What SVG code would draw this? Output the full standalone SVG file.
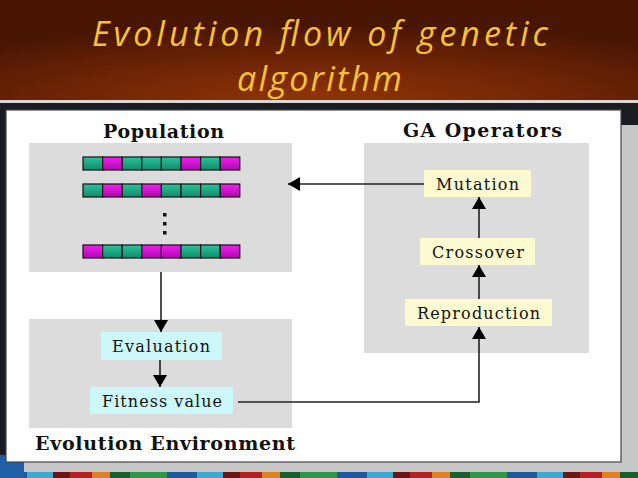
<svg xmlns="http://www.w3.org/2000/svg" width="638" height="478" viewBox="0 0 638 478">
<defs>
<radialGradient id="banner" cx="0.5" cy="1" r="0.75" fx="0.5" fy="1">
<stop offset="0" stop-color="#923507"/>
<stop offset="0.55" stop-color="#6e2405"/>
<stop offset="1" stop-color="#4a1604"/>
</radialGradient>
<linearGradient id="teal" x1="0" y1="0" x2="0" y2="1">
<stop offset="0" stop-color="#2cc49a"/>
<stop offset="1" stop-color="#0e8a6a"/>
</linearGradient>
<linearGradient id="mag" x1="0" y1="0" x2="0" y2="1">
<stop offset="0" stop-color="#f020f0"/>
<stop offset="1" stop-color="#b008b0"/>
</linearGradient>
<pattern id="strip" x="53" y="0" width="170" height="10" patternUnits="userSpaceOnUse">
<rect x="0" y="0" width="17" height="10" fill="#6e1414"/>
<rect x="17" y="0" width="22" height="10" fill="#b82020"/>
<rect x="39" y="0" width="18" height="10" fill="#e0801e"/>
<rect x="57" y="0" width="20" height="10" fill="#17602c"/>
<rect x="77" y="0" width="37" height="10" fill="#2a9a4a"/>
<rect x="114" y="0" width="30" height="10" fill="#1a5aa0"/>
<rect x="144" y="0" width="26" height="10" fill="#3aaad4"/>
</pattern>
<marker id="ah" viewBox="0 0 12 14" refX="12" refY="7" markerWidth="12" markerHeight="14" markerUnits="userSpaceOnUse" orient="auto">
<path d="M0,0 L12,7 L0,14 Z" fill="#000"/>
</marker>
<style>
.title{font-family:"Open Sans","DejaVu Sans",sans-serif;font-style:italic;font-size:34px;fill:#f6c132}
.hdr{font-family:"DejaVu Serif","Liberation Serif",serif;font-weight:bold;font-size:19px;fill:#111}
.lbl{font-family:"DejaVu Serif","Liberation Serif",serif;font-size:16px;fill:#111}
.grp{fill:#dcdcdc}
.op{fill:#fcfad0}
.ev{fill:#cdf8fa}
.t{fill:url(#teal);stroke:#111;stroke-width:1.2}
.m{fill:url(#mag);stroke:#111;stroke-width:1.2}
.ln{stroke:#222;stroke-width:1.6;fill:none}
</style>
</defs>

<!-- background frame -->
<rect x="0" y="0" width="638" height="478" fill="#c8c8c8"/>
<rect x="0" y="0" width="638" height="101" fill="url(#banner)"/>
<rect x="0" y="100" width="638" height="3" fill="#d8d8d8"/>
<rect x="0" y="103" width="638" height="8" fill="#1a1c22"/>
<rect x="620" y="103" width="18" height="22" fill="#1a1c22"/>
<rect x="0" y="103" width="6" height="360" fill="#1a1c22"/>
<rect x="0" y="455" width="24" height="23" fill="#1f5fa8"/>
<rect x="24" y="472" width="614" height="6" fill="url(#strip)"/>
<rect x="6" y="110" width="615" height="352" fill="#ffffff" stroke="#444" stroke-width="1.2"/>

<text class="title" x="92" y="46" textLength="456">Evolution flow of genetic</text>
<text class="title" x="237" y="91" textLength="165">algorithm</text>

<g id="population">
<text class="hdr" x="103" y="138" textLength="121">Population</text>
<rect class="grp" x="29" y="143" width="263" height="129"/>
<g id="chrom1">
<rect class="t" x="83" y="157" width="19.6" height="13"/>
<rect class="m" x="102.6" y="157" width="19.6" height="13"/>
<rect class="t" x="122.2" y="157" width="19.6" height="13"/>
<rect class="t" x="141.8" y="157" width="19.6" height="13"/>
<rect class="t" x="161.4" y="157" width="19.6" height="13"/>
<rect class="m" x="181" y="157" width="19.6" height="13"/>
<rect class="t" x="200.6" y="157" width="19.6" height="13"/>
<rect class="m" x="220.2" y="157" width="19.6" height="13"/>
</g>
<g id="chrom2">
<rect class="t" x="83" y="184" width="19.6" height="13"/>
<rect class="m" x="102.6" y="184" width="19.6" height="13"/>
<rect class="t" x="122.2" y="184" width="19.6" height="13"/>
<rect class="m" x="141.8" y="184" width="19.6" height="13"/>
<rect class="t" x="161.4" y="184" width="19.6" height="13"/>
<rect class="t" x="181" y="184" width="19.6" height="13"/>
<rect class="t" x="200.6" y="184" width="19.6" height="13"/>
<rect class="m" x="220.2" y="184" width="19.6" height="13"/>
</g>
<rect x="163" y="213" width="3.5" height="3.5" fill="#111"/>
<rect x="163" y="222" width="3.5" height="3.5" fill="#111"/>
<rect x="163" y="231" width="3.5" height="3.5" fill="#111"/>
<g id="chrom3">
<rect class="m" x="83" y="245" width="19.6" height="13"/>
<rect class="t" x="102.6" y="245" width="19.6" height="13"/>
<rect class="t" x="122.2" y="245" width="19.6" height="13"/>
<rect class="m" x="141.8" y="245" width="19.6" height="13"/>
<rect class="m" x="161.4" y="245" width="19.6" height="13"/>
<rect class="t" x="181" y="245" width="19.6" height="13"/>
<rect class="t" x="200.6" y="245" width="19.6" height="13"/>
<rect class="m" x="220.2" y="245" width="19.6" height="13"/>
</g>
</g>

<g id="ga-operators">
<text class="hdr" x="403" y="137" textLength="159">GA Operators</text>
<rect class="grp" x="364" y="143" width="225" height="210"/>
</g>
<g id="mutation">
<rect class="op" x="424" y="170" width="107" height="27"/>
<text class="lbl" x="436" y="190" textLength="83">Mutation</text>
</g>
<g id="crossover">
<rect class="op" x="420" y="238" width="115" height="27"/>
<text class="lbl" x="432" y="258" textLength="92">Crossover</text>
</g>
<g id="reproduction">
<rect class="op" x="405" y="299" width="147" height="27"/>
<text class="lbl" x="417" y="319" textLength="123">Reproduction</text>
</g>

<g id="evolution-environment">
<rect class="grp" x="29" y="319" width="263" height="109"/>
<text class="hdr" x="35" y="450" textLength="260">Evolution Environment</text>
</g>
<g id="evaluation">
<rect class="ev" x="101" y="332" width="121" height="28"/>
<text class="lbl" x="112" y="352" textLength="98">Evaluation</text>
</g>
<g id="fitness">
<rect class="ev" x="90" y="387" width="143" height="27"/>
<text class="lbl" x="102" y="407" textLength="120">Fitness value</text>
</g>

<g id="connectors">
<path class="ln" d="M424,184 L288,184" marker-end="url(#ah)"/>
<path class="ln" d="M479,238 L479,197" marker-end="url(#ah)"/>
<path class="ln" d="M479,299 L479,265" marker-end="url(#ah)"/>
<path class="ln" d="M238,402 L479,402 L479,327" marker-end="url(#ah)"/>
<path class="ln" d="M161,272 L161,332" marker-end="url(#ah)"/>
<path class="ln" d="M160,360 L160,387" marker-end="url(#ah)"/>
</g>
</svg>
